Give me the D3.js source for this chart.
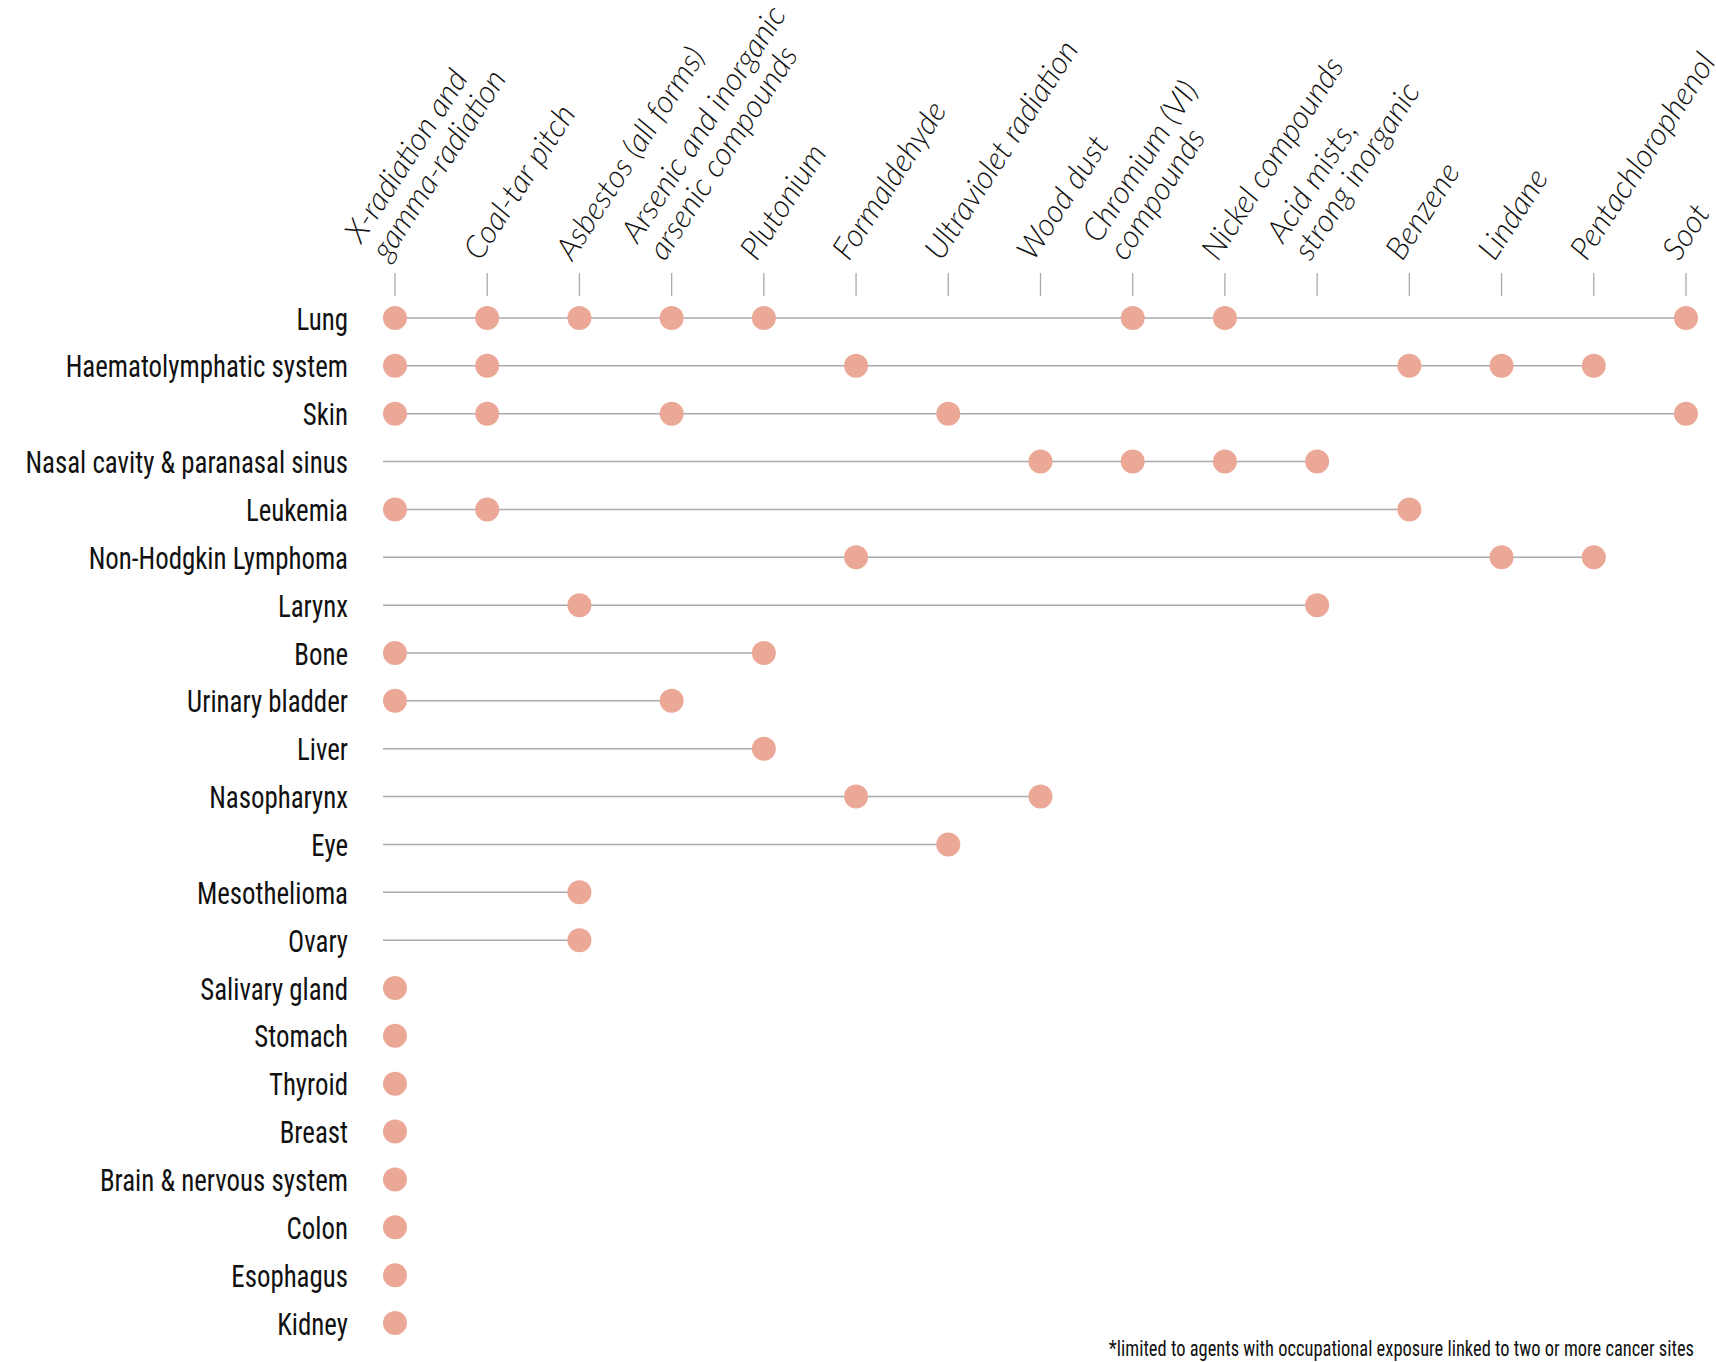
<!DOCTYPE html>
<html><head><meta charset="utf-8">
<script src="https://cdn.jsdelivr.net/npm/d3@7"></script>
<style>body{margin:0;background:#fff}</style></head>
<body><svg id="c" width="1716" height="1362"></svg>
<script>
const agents = [["X-radiation and","gamma-radiation"],["Coal-tar pitch"],["Asbestos (all forms)"],["Arsenic and inorganic","arsenic compounds"],["Plutonium"],["Formaldehyde"],["Ultraviolet radiation"],["Wood dust"],["Chromium (VI)","compounds"],["Nickel compounds"],["Acid mists,","strong inorganic"],["Benzene"],["Lindane"],["Pentachlorophenol"],["Soot"]];
const sites = ["Lung","Haematolymphatic system","Skin","Nasal cavity & paranasal sinus","Leukemia","Non-Hodgkin Lymphoma","Larynx","Bone","Urinary bladder","Liver","Nasopharynx","Eye","Mesothelioma","Ovary","Salivary gland","Stomach","Thyroid","Breast","Brain & nervous system","Colon","Esophagus","Kidney"];
const links = [[0,1,2,3,4,8,9,14],[0,1,5,11,12,13],[0,1,3,6,14],[7,8,9,10],[0,1,11],[5,12,13],[2,10],[0,4],[0,3],[4],[5,7],[6],[2],[2],[0],[0],[0],[0],[0],[0],[0],[0]];
const footnote = "*limited to agents with occupational exposure linked to two or more cancer sites";

const svg = d3.select("#c");
const x = d3.scalePoint().domain(d3.range(agents.length)).range([395,1686]);
const y = d3.scalePoint().domain(sites).range([318,1323]);
const font = "'Roboto Condensed','Roboto',sans-serif";
const sx = 0.84;

svg.selectAll(".tk").data(agents).join("line")
 .attr("x1",(d,i)=>x(i)).attr("x2",(d,i)=>x(i)).attr("y1",273).attr("y2",296)
 .attr("stroke","#aaa").attr("stroke-width",1.3);
const cl = svg.selectAll(".cl").data(agents).join("text")
 .attr("transform",(d,i)=>`translate(${x(i)-7},262) rotate(-57)`)
 .attr("font-family","Lato, sans-serif").attr("font-weight",300).attr("font-style","italic")
 .attr("font-size",31.5).attr("fill","#111");
cl.each(function(d){
  const t=d3.select(this);
  d.forEach((line,k)=>t.append("tspan").attr("x",0).attr("y",-(d.length-1-k)*32).text(line));
});
sites.forEach((s,r)=>{
  const xs = links[r];
  const g = svg.append("g");
  g.append("line").attr("x1",383).attr("x2",x(d3.max(xs))).attr("y1",y(s)).attr("y2",y(s))
   .attr("stroke","#aaa").attr("stroke-width",1.5);
  g.selectAll("circle").data(xs).join("circle").attr("cx",d=>x(d)).attr("cy",y(s)).attr("r",12).attr("fill","#eba896");
  g.append("text").attr("transform",`translate(348,${y(s)}) scale(${sx},1)`).attr("dy","0.36em").attr("text-anchor","end")
   .attr("font-family",font).attr("font-size",32).attr("fill","#111").text(s);
});
svg.append("text").attr("transform",`translate(1694,1356) scale(${sx},1)`).attr("text-anchor","end")
 .attr("font-family",font).attr("font-size",22).attr("fill","#111").text(footnote);
</script></body></html>
